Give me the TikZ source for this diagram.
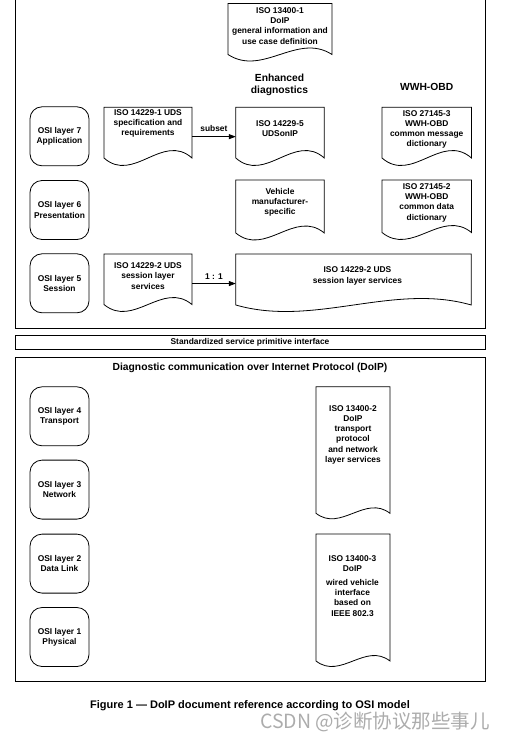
\documentclass[tikz,border=0pt]{standalone}
\usepackage{fontspec}
\setmainfont{Liberation Sans}
\newfontfamily\cjkfont{Noto Sans CJK SC}
\usetikzlibrary{arrows.meta,calc}
\newcommand\smallbold{\fontsize{8.4}{10.2}\selectfont\bfseries}
\newcommand\midbold{\fontsize{10.3}{12}\selectfont\bfseries}
\tikzset{
  osibox/.style={draw, line width=0.8pt, rounded corners=12pt, minimum width=59pt, minimum height=59pt, inner sep=0pt, outer sep=0pt, align=center, font=\smallbold},
  docbox/.style={draw=none, inner sep=0pt, outer sep=0pt, anchor=north west},
  docline/.style={draw, line width=0.8pt},
  doctext/.style={align=center, font=\smallbold, inner sep=0pt},
  framebox/.style={draw, line width=1pt, inner sep=0pt, outer sep=0pt},
  conn/.style={-{Triangle[length=7pt,width=5pt]}, line width=0.8pt},
  lbl/.style={font=\smallbold, inner sep=0pt},
}
\newcommand\docoutline[2]{%
  \draw[docline] (#1.south west) -- (#1.north west) -- (#1.north east) -- (#1.south east)
    .. controls ($(#1.south west)!2/3!(#1.south east)+(0,-3.46*#2)$)
       and ($(#1.south west)!1/3!(#1.south east)+(0,3.46*#2)$) .. (#1.south west) -- cycle;}
\begin{document}
\begin{tikzpicture}[x=1pt,y=-1pt]
\useasboundingbox (0,0) rectangle (506,740);
% frames
\draw[framebox] (15,-5) rectangle (485,328);
\node[framebox, minimum width=470pt, minimum height=14.7pt, font=\smallbold] (iface) at (250,342.6) {Standardized service primitive interface};
\node[framebox, minimum width=470pt, minimum height=324pt] (lower) at (250,519) {};
\node[font=\midbold, inner sep=0pt] (doiptitle) at (250,368) {Diagnostic communication over Internet Protocol (DoIP)};
% column headings
\node[font=\midbold, align=center, inner sep=0pt] (enh) at (279.5,85) {Enhanced\\diagnostics};
\node[font=\midbold, inner sep=0pt] (wwh) at (426.7,86.5) {WWH-OBD};
% OSI layers
\node[osibox] (L7) at (59.5,136.3) {OSI layer 7\\Application};
\node[osibox] (L6) at (59.5,210) {OSI layer 6\\Presentation};
\node[osibox] (L5) at (59.5,283.3) {OSI layer 5\\Session};
\node[osibox] (L4) at (59.5,416.3) {OSI layer 4\\Transport};
\node[osibox] (L3) at (59.5,489.6) {OSI layer 3\\Network};
\node[osibox] (L2) at (59.5,563.6) {OSI layer 2\\Data Link};
\node[osibox] (L1) at (59.5,637) {OSI layer 1\\Physical};
% documents
\node[docbox, minimum width=104pt, minimum height=51pt] (dA) at (228,3.5) {};
\docoutline{dA}{6.5}
\node[doctext] (tA) at (280,26) {ISO 13400-1\\DoIP\\general information and\\use case definition};

\node[docbox, minimum width=88pt, minimum height=50.7pt] (d1) at (104,107.3) {};
\docoutline{d1}{7.5}
\node[doctext] (t1) at (148,123.7) {ISO 14229-1 UDS\\specification and\\requirements};

\node[docbox, minimum width=88.5pt, minimum height=50.7pt] (d5) at (235.8,107.3) {};
\docoutline{d5}{7.5}
\node[doctext] (t5) at (280,129) {ISO 14229-5\\UDSonIP};

\node[docbox, minimum width=89.5pt, minimum height=50.7pt] (d273) at (382,107.3) {};
\docoutline{d273}{7.5}
\node[doctext] (t273) at (426.7,129.4) {ISO 27145-3\\WWH-OBD\\common message\\dictionary};

\node[docbox, minimum width=88.5pt, minimum height=53pt] (dVM) at (235.8,180) {};
\docoutline{dVM}{7}
\node[doctext] (tVM) at (280,202.5) {Vehicle\\manufacturer-\\specific};

\node[docbox, minimum width=89.5pt, minimum height=52.5pt] (d272) at (382,180) {};
\docoutline{d272}{7}
\node[doctext] (t272) at (426.7,202.8) {ISO 27145-2\\WWH-OBD\\common data\\dictionary};

\node[docbox, minimum width=88pt, minimum height=50.5pt] (d2a) at (104,254) {};
\docoutline{d2a}{7}
\node[doctext] (t2a) at (148,276) {ISO 14229-2 UDS\\session layer\\services};

\node[docbox, minimum width=235.5pt, minimum height=51pt] (d2b) at (235.8,254) {};
\docoutline{d2b}{6.5}
\node[doctext] (t2b) at (357.5,276) {ISO 14229-2 UDS\\session layer services};

\node[docbox, minimum width=74pt, minimum height=126.6pt] (d132) at (316,386.7) {};
\docoutline{d132}{5.5}
\node[doctext] (t132) at (353,434.7) {ISO 13400-2\\DoIP\\transport\\protocol\\and network\\layer services};

\node[docbox, minimum width=74pt, minimum height=127pt] (d133) at (316,534) {};
\docoutline{d133}{5.5}
\node[doctext] (t133) at (352.5,586) {ISO 13400-3\\DoIP\\[3.5pt]wired vehicle\\interface\\based on\\IEEE 802.3};
% connectors
\draw[conn] ([yshift=-4pt]d1.east) -- ([yshift=-4pt]d1.east -| d5.west) node[lbl, midway, above=5pt] (subset) {subset};
\draw[conn] ([yshift=-4.3pt]d2a.east) -- ([yshift=-4.3pt]d2a.east -| d2b.west) node[lbl, midway, above=4pt] (oneone) {1 : 1};
% caption
\node[font=\fontsize{11}{13}\selectfont\bfseries, inner sep=0pt] (caption) at (250,706) {Figure 1 — DoIP document reference according to OSI model};
\node[font=\cjkfont\fontsize{19.5}{22}\selectfont, text=gray!65, inner sep=0pt] (wm) at (375,721.5) {CSDN @诊断协议那些事儿};
\end{tikzpicture}
\end{document}
